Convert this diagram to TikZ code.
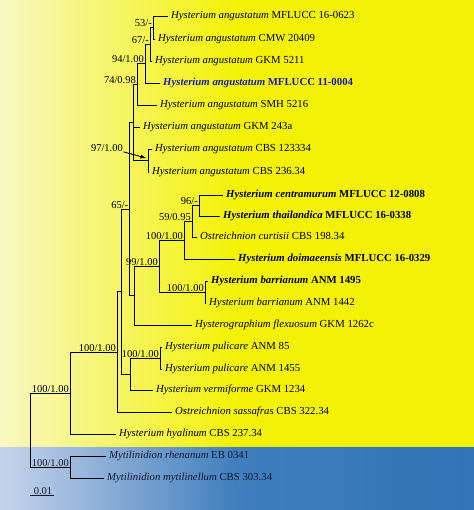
\documentclass[tikz,border=0pt]{standalone}
\usepackage{fontspec}
\setmainfont{Liberation Serif}

\definecolor{paleyellow}{RGB}{248,248,196}
\definecolor{brightyellow}{RGB}{243,242,6}
\definecolor{paleblue}{RGB}{198,212,235}
\definecolor{midblue}{RGB}{64,126,190}
\definecolor{deepblue}{RGB}{46,116,182}
\definecolor{typeblue}{RGB}{28,28,175}
\definecolor{navytext}{RGB}{18,24,48}

\newcommand\leaffont{\fontsize{10.8}{12}\selectfont}
\newcommand\bootfont{\fontsize{10.5}{12}\selectfont}
\newcommand\taxon[4]{
  \node[leaf] (#1) at (#2, #3) {#4} ;
}
\newcommand\boot[2]{
  \node[boot] (s#1) at (#1) {#2} ;
}

\begin{document}
\begin{tikzpicture}[x=1bp, y=-1bp,
    leaf/.style={anchor=west, inner xsep=3bp, inner ysep=0pt,
      text height=7.5bp, text depth=2.5bp, font=\leaffont},
    boot/.style={anchor=south east, inner xsep=1bp, inner ysep=0.6bp, font=\bootfont},
    branch/.style={line width=0.9bp, line cap=rect}]
    \useasboundingbox (0, 0) rectangle (474, 510) ;
    % backgrounds
    \shade[left color=paleyellow, right color=brightyellow, middle color=brightyellow]
       (0, 0) rectangle (474, 447) ;
    \shade[left color=paleblue, right color=deepblue, middle color=midblue]
       (0, 447) rectangle (474, 510) ;

    % taxa
    \taxon{t1}{168}{16}{\textit{Hysterium angustatum} MFLUCC 16-0623}
    \taxon{t2}{155}{39}{\textit{Hysterium angustatum} CMW 20409}
    \taxon{t3}{152}{61}{\textit{Hysterium angustatum} GKM 5211}
    \taxon{t4}{160}{83}{\color{typeblue}\bfseries\textit{Hysterium angustatum} MFLUCC 11-0004}
    \taxon{t5}{157}{105}{\textit{Hysterium angustatum} SMH 5216}
    \taxon{t6}{140}{127}{\textit{Hysterium angustatum} GKM 243a}
    \taxon{t7}{152}{149}{\textit{Hysterium angustatum} CBS 123334}
    \taxon{t8}{149}{172}{\textit{Hysterium angustatum} CBS 236.34}
    \taxon{t9}{223}{195}{\bfseries\textit{Hysterium centramurum} MFLUCC 12-0808}
    \taxon{t10}{220}{216}{\bfseries\textit{Hysterium thailandica} MFLUCC 16-0338}
    \taxon{t11}{197}{237}{\textit{Ostreichnion curtisii} CBS 198.34}
    \taxon{t12}{235}{259}{\bfseries\textit{Hysterium doimaeensis} MFLUCC 16-0329}
    \taxon{t13}{208}{281}{\bfseries\textit{Hysterium barrianum} ANM 1495}
    \taxon{t14}{206}{303}{\textit{Hysterium barrianum} ANM 1442}
    \taxon{t15}{192}{325}{\textit{Hysterographium flexuosum} GKM 1262c}
    \taxon{t16}{162}{347}{\textit{Hysterium pulicare} ANM 85}
    \taxon{t17}{162}{369}{\textit{Hysterium pulicare} ANM 1455}
    \taxon{t18}{153}{390}{\textit{Hysterium vermiforme} GKM 1234}
    \taxon{t19}{172}{412}{\textit{Ostreichnion sassafras} CBS 322.34}
    \taxon{t20}{116}{434}{\textit{Hysterium hyalinum} CBS 237.34}
    \taxon{t21}{106}{456}{\color{navytext}\textit{Mytilinidion rhenanum} EB 0341}
    \taxon{t22}{104}{478}{\color{navytext}\textit{Mytilinidion mytilinellum} CBS 303.34}

    % clades
    \coordinate (c53) at (153, 27.5) ;
    \coordinate (c67) at (150, 44) ;
    \coordinate (c94) at (145, 63.5) ;
    \coordinate (c74) at (137, 84) ;
    \coordinate (cCbs) at (148, 160.5) ;
    \coordinate (cAng) at (133, 122) ;
    \coordinate (c96) at (199, 205.5) ;
    \coordinate (c59) at (192, 221) ;
    \coordinate (cDoi) at (184, 240) ;
    \coordinate (cBarr) at (205, 292) ;
    \coordinate (c99) at (159, 266) ;
    \coordinate (cFlex) at (134, 295.5) ;
    \coordinate (c65) at (129.5, 209) ;
    \coordinate (cPuli) at (160, 358) ;
    \coordinate (cVerm) at (130, 374) ;
    \coordinate (cMid) at (121, 291.5) ;
    \coordinate (cSass) at (117, 352) ;
    \coordinate (cIn) at (70, 393) ;
    \coordinate (cMyt) at (70, 467) ;
    \coordinate (cRoot) at (30, 430) ;
    \coordinate (tip97) at (146, 158) ;

    % branches
    \foreach \p/\c in {c53/t1, c53/t2, c67/c53, c67/t3, c94/c67, c94/t4,
        c74/c94, c74/t5, cCbs/t7, cCbs/t8, cAng/c74, cAng/t6, cAng/cCbs,
        c96/t9, c96/t10, c59/c96, c59/t11, cDoi/c59, cDoi/t12,
        cBarr/t13, cBarr/t14, c99/cDoi, c99/cBarr, cFlex/c99, cFlex/t15,
        c65/cAng, c65/cFlex, cPuli/t16, cPuli/t17, cVerm/cPuli, cVerm/t18,
        cMid/c65, cMid/cVerm, cSass/cMid, cSass/t19, cIn/cSass, cIn/t20,
        cMyt/t21, cMyt/t22, cRoot/cIn, cRoot/cMyt}
      \draw[branch] (\p) |- (\c) ;

    % support values
    \boot{c53}{53/-}
    \boot{c67}{67/-}
    \boot{c94}{94/1.00}
    \boot{c74}{74/0.98}
    \boot{c96}{96/-}
    \boot{c59}{59/0.95}
    \boot{cDoi}{100/1.00}
    \boot{cBarr}{100/1.00}
    \boot{c99}{99/1.00}
    \boot{c65}{65/-}
    \boot{cPuli}{100/1.00}
    \boot{cSass}{100/1.00}
    \boot{cIn}{100/1.00}
    \node[boot, text=navytext] (scMyt) at (cMyt) {100/1.00} ;
    \node[boot] (s97) at (124, 152) {97/1.00} ;
    \draw[branch, -latex] (s97.south east) -- (tip97) ;

    % scale bar
    \coordinate (barL) at (30, 495) ;
    \coordinate (barR) at (54, 495) ;
    \draw[branch, navytext] (barL) -- (barR) ;
    \node[boot, anchor=south, text=navytext] (scale) at (43, 495) {0.01} ;
\end{tikzpicture}
\end{document}
